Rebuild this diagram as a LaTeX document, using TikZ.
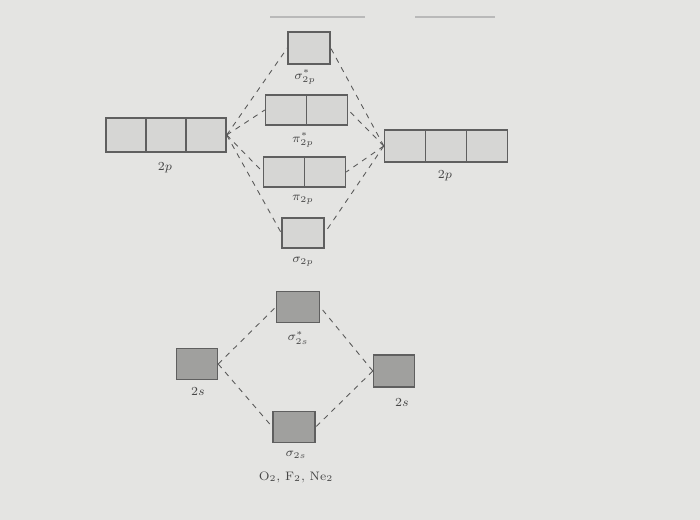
\documentclass[tikz,border=0pt]{standalone}
\usepackage{tikz}
\usetikzlibrary{positioning, calc}
\usepackage{amsmath, amssymb}
\definecolor{photobg}{RGB}{228, 228, 226}
\definecolor{boxline}{RGB}{95, 95, 95}
\definecolor{pfill}{RGB}{214, 214, 212}
\definecolor{sfill}{RGB}{160, 160, 158}
\definecolor{labelgray}{RGB}{70, 70, 70}

\begin{document}
\begin{tikzpicture}[x=0.02cm, y=-0.02cm,
  orb/.style={draw=boxline, fill=pfill, line width=0.8pt, inner sep=0pt, minimum width=0.82cm, minimum height=0.64cm},
  sorb/.style={orb, fill=sfill},
  lbl/.style={font=\scriptsize, text=labelgray},
  link/.style={dashed, gray!70!black, line width=0.5pt}]

  % Background of the photo
  \fill[photobg] (0,0) rectangle (700,520);
  \useasboundingbox (0,0) rectangle (700,520);
  \draw[gray!55, line width=1.2pt] (270,17) -- (365,17);
  \draw[gray!55, line width=1.2pt] (415,17) -- (495,17);

  % Atomic 2p levels
  \node[orb, minimum width=0.8cm, minimum height=0.68cm] (pL1) at (126,135) {};
  \node[orb, minimum width=0.8cm, minimum height=0.68cm] (pL2) at (166,135) {};
  \node[orb, minimum width=0.8cm, minimum height=0.68cm] (pL3) at (206,135) {};
  \node[orb] (pR1) at (405,146) {};
  \node[orb] (pR2) at (446,146) {};
  \node[orb] (pR3) at (487,146) {};

  % Molecular levels from 2p
  \node[orb, minimum width=0.84cm] (sgsp) at (309,48) {};
  \node[orb, minimum height=0.6cm] (pisp1) at (286,110) {};
  \node[orb, minimum height=0.6cm] (pisp2) at (327,110) {};
  \node[orb, minimum height=0.6cm] (pip1) at (284,172) {};
  \node[orb, minimum height=0.6cm] (pip2) at (325,172) {};
  \node[orb, minimum width=0.84cm, minimum height=0.6cm] (sgp) at (303,233) {};

  % Atomic 2s levels and their molecular levels
  \node[sorb, minimum height=0.62cm] (sL) at (197,364) {};
  \node[sorb] (sR) at (394,371) {};
  \node[sorb, minimum width=0.86cm, minimum height=0.62cm] (sgss) at (298,307) {};
  \node[sorb, minimum width=0.84cm, minimum height=0.62cm] (sgs) at (294,427) {};

  % Labels
  \node[lbl] (lsgsp) at (305,77) {$\sigma^*_{2p}$};
  \node[lbl] (lpisp) at (303,140) {$\pi^*_{2p}$};
  \node[lbl] (lpip) at (303,200) {$\pi_{2p}$};
  \node[lbl] (lsgp) at (303,262) {$\sigma_{2p}$};
  \node[lbl] (lpL) at (165,168) {$2p$};
  \node[lbl] (lpR) at (445,176) {$2p$};
  \node[lbl] (lsgss) at (298,338) {$\sigma^*_{2s}$};
  \node[lbl] (lsL) at (198,392) {$2s$};
  \node[lbl] (lsR) at (402,403) {$2s$};
  \node[lbl] (lsgs) at (296,455) {$\sigma_{2s}$};
  \node[lbl] (lmol) at (296,477) {O$_2$, F$_2$, Ne$_2$};

  % Correlation lines, 2p
  \draw[link] (pL3.east) -- (sgsp.west);
  \draw[link] (pL3.east) -- (pisp1.west);
  \draw[link] (pL3.east) -- (pip1.west);
  \draw[link] (pL3.east) -- (sgp.west);
  \draw[link] (pR1.west) -- (sgsp.east);
  \draw[link] (pR1.west) -- (pisp2.east);
  \draw[link] (pR1.west) -- (pip2.east);
  \draw[link] (pR1.west) -- (sgp.east);

  % Correlation lines, 2s
  \draw[link] (sL.east) -- (sgss.west);
  \draw[link] (sL.east) -- (sgs.west);
  \draw[link] (sR.west) -- (sgss.east);
  \draw[link] (sR.west) -- (sgs.east);
\end{tikzpicture}
\end{document}
